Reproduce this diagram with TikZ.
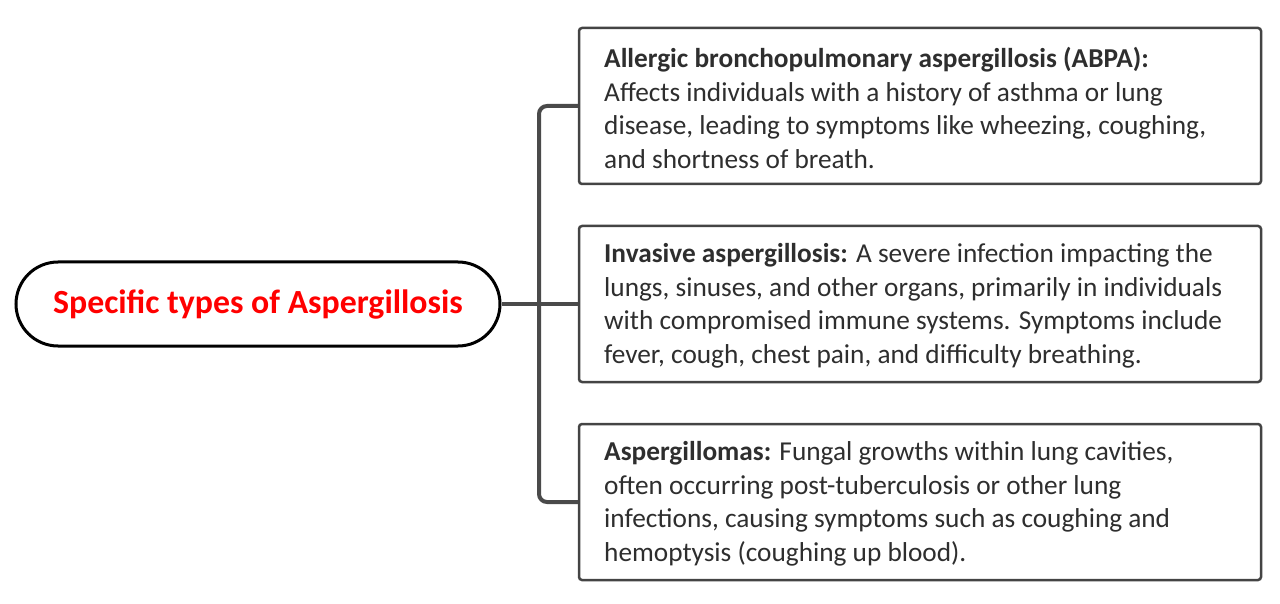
\documentclass[tikz,border=0pt]{standalone}
\usepackage{fontspec}
\setmainfont{Carlito}
\definecolor{txt}{HTML}{2E2E2E}
\definecolor{edge}{HTML}{4A4A4A}
\definecolor{boxline}{HTML}{444444}
\begin{document}
\begin{tikzpicture}[x=1pt,y=-1pt,
  rootbox/.style={draw=black,line width=3pt,rounded corners=42pt,fill=white,minimum width=484pt,minimum height=84pt,inner sep=0pt,font=\fontsize{33.8}{38}\selectfont\bfseries,text=red},
  infobox/.style={draw=boxline,line width=2.5pt,rounded corners=3pt,fill=white,minimum width=682pt,minimum height=156pt,inner sep=0pt},
  infotext/.style={anchor=west,align=left,inner sep=0pt,text=txt,font=\fontsize{27.3}{33.5}\selectfont},
  link/.style={draw=edge,line width=4pt,rounded corners=8pt}]
\useasboundingbox (0,0) rectangle (1280,604);
\node[rootbox] (root) at (258,304) {Specific types of Aspergillosis};
\node[infobox] (b1) at (920,106) {};
\node[infobox] (b2) at (920,304) {};
\node[infobox] (b3) at (920,502) {};
\coordinate (trunktop) at (539,106);
\coordinate (trunkbot) at (539,502);
\draw[link] (b1.west) -- (trunktop) -- (trunkbot) -- (b3.west);
\draw[link] (root.east) -- (b2.west);
\node[infotext] (t1) at (604,108) {\textbf{Allergic bronchopulmonary aspergillosis (ABPA):}\\Affects individuals with a history of asthma or lung\\disease, leading to symptoms like wheezing, coughing,\\and shortness of breath.};
\node[infotext] (t2) at (604,306) {\textbf{Invasive aspergillosis:} A severe infection impacting the\\lungs, sinuses, and other organs, primarily in individuals\\with compromised immune systems. Symptoms include\\fever, cough, chest pain, and difficulty breathing.};
\node[infotext] (t3) at (604,504) {\textbf{Aspergillomas:} Fungal growths within lung cavities,\\often occurring post-tuberculosis or other lung\\infections, causing symptoms such as coughing and\\hemoptysis (coughing up blood).};
\end{tikzpicture}
\end{document}
